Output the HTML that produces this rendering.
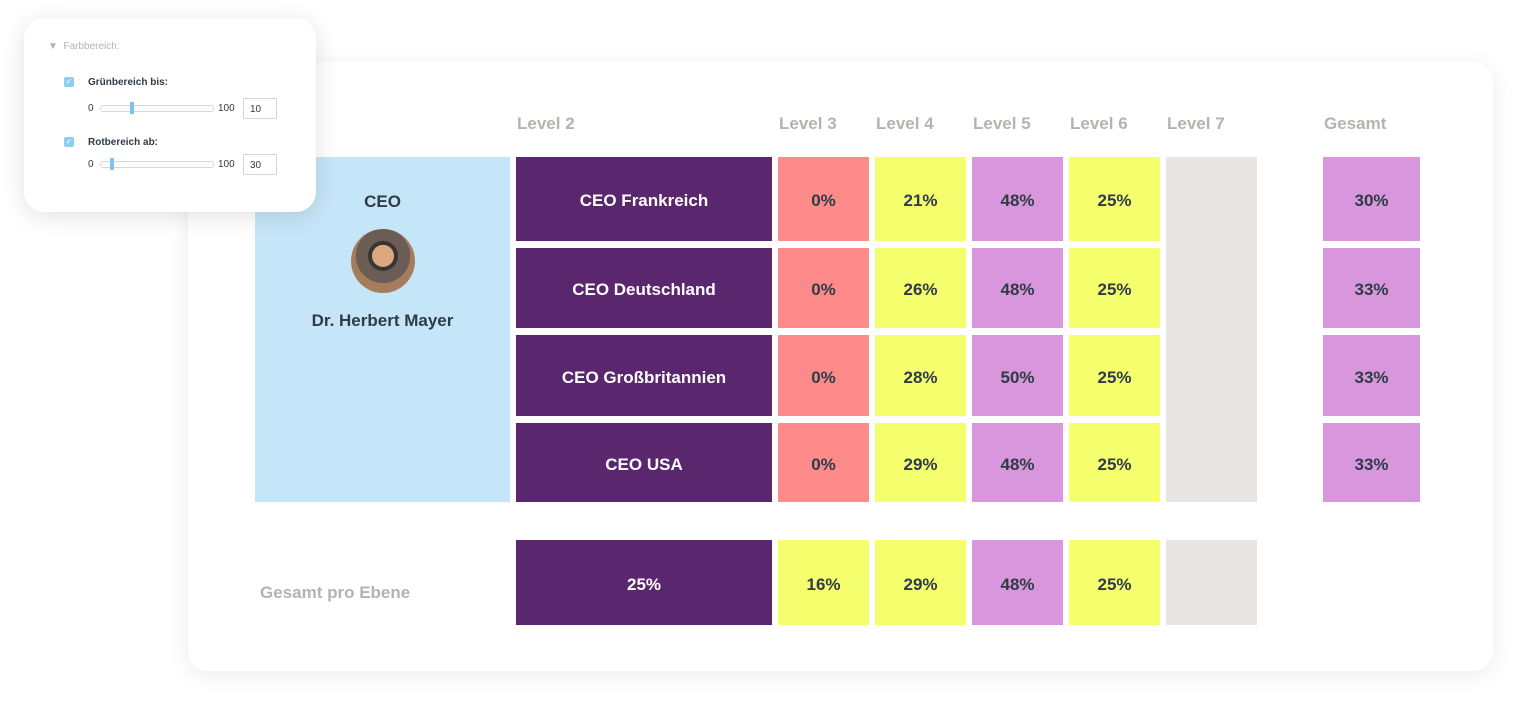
<!DOCTYPE html>
<html><head><meta charset="utf-8"><style>
body{margin:0;width:1517px;height:702px;background:#fff;font-family:"Liberation Sans",sans-serif;position:relative;overflow:hidden}
.abs{position:absolute}
#card{left:188px;top:62px;width:1305px;height:609px;border-radius:20px;background:#fff;box-shadow:0 4px 24px rgba(0,0,0,0.08)}
.hdr{font-size:17px;color:#b5b3ae;top:114px;font-weight:bold}
.cell{display:flex;align-items:center;justify-content:center;font-size:17px;font-weight:bold;color:#2f3b45;padding-top:4px;box-sizing:border-box}
.purple{background:#5a266d;color:#fff}
#panel{left:24px;top:18px;width:292px;height:194px;border-radius:20px;background:#fff;box-shadow:0 4px 24px rgba(0,0,0,0.12);font-size:10px;color:#2f3b45}
.cb{width:10px;height:10px;background:#8ecdf0;border-radius:2px;color:#fff;font-size:8px;line-height:10px;text-align:center}
.track{height:5px;border:1px solid #ddd6d0;border-radius:3px;width:112px}
.knob{width:4px;height:12px;background:#7cc3ee}
.inp{width:34px;height:21px;border:1px solid #ddd6d0;font-size:10px;line-height:21px;padding-left:6px;box-sizing:border-box}
</style></head><body>
<div id="card" class="abs"></div>
<div id="hdrs"></div>
<div class="abs cell" style="left:255px;top:157px;width:255px;height:345px;background:#c5e6f8;flex-direction:column;justify-content:flex-start;padding-top:0">
  <div style="margin-top:35px;font-size:17px">CEO</div>
  <div style="margin-top:17px;width:64px;height:64px;border-radius:50%;background:radial-gradient(circle at 50% 42%,#d9a882 0 22%,#3a3430 23% 30%,#6b5d55 31% 55%,#a57d5c 56%)"></div>
  <div style="margin-top:18px;font-size:17px">Dr. Herbert Mayer</div>
</div>
<div class="abs" style="left:260px;top:583px;font-size:17px;color:#b5b3ae;font-weight:bold">Gesamt pro Ebene</div>
<div id="grid"></div>
<div id="panel" class="abs">
  <div class="abs" style="left:24px;top:23px;color:#b5b3ae;font-size:10px">▼ &nbsp;Farbbereich:</div>
  <div class="abs cb" style="left:40px;top:59px">✓</div>
  <div class="abs" style="left:64px;top:59px;font-weight:bold">Grünbereich bis:</div>
  <div class="abs" style="left:64px;top:85px">0</div>
  <div class="abs track" style="left:76px;top:87px"></div>
  <div class="abs knob" style="left:106px;top:84px"></div>
  <div class="abs" style="left:194px;top:85px">100</div>
  <div class="abs inp" style="left:219px;top:80px">10</div>
  <div class="abs cb" style="left:40px;top:119px">✓</div>
  <div class="abs" style="left:64px;top:119px;font-weight:bold">Rotbereich ab:</div>
  <div class="abs" style="left:64px;top:141px">0</div>
  <div class="abs track" style="left:76px;top:143px"></div>
  <div class="abs knob" style="left:86px;top:140px"></div>
  <div class="abs" style="left:194px;top:141px">100</div>
  <div class="abs inp" style="left:219px;top:136px">30</div>
</div>
<script>
const headers=["Level 2","Level 3","Level 4","Level 5","Level 6","Level 7","Gesamt"];
const rowNames=["CEO Frankreich","CEO Deutschland","CEO Großbritannien","CEO USA"];
const level3=[0,0,0,0];
const level4=[21,26,28,29];
const level5=[48,48,50,48];
const level6=[25,25,25,25];
const gesamt=[30,33,33,33];
const totals=[25,16,29,48,25];
const colX=[516,778,875,972,1069,1166,1323];
const colW=[256,91,91,91,91,91,97];
const rowY=[157,248,335,423], rowH=[84,80,81,79];
function color(v){return v<10?'#ff8a8a':(v<30?'#f5fe6c':'#d896dc');}
const H=document.getElementById('hdrs'),G=document.getElementById('grid');
headers.forEach((h,i)=>{const d=document.createElement('div');d.className='abs hdr';d.style.left=(colX[i]+1)+'px';d.textContent=h;

H.appendChild(d);});
function cell(x,y,w,h,txt,bg,name,cls){const d=document.createElement('div');d.className='abs cell'+(cls?' '+cls:'');
d.style.cssText+=`left:${x}px;top:${y}px;width:${w}px;height:${h}px;`+(bg?`background:${bg};`:'');d.textContent=txt;

G.appendChild(d);}
const series=[level3,level4,level5,level6];
rowNames.forEach((n,r)=>{
 cell(colX[0],rowY[r],colW[0],rowH[r],n,null,'level2-'+r,'purple');
 series.forEach((s,j)=>cell(colX[j+1],rowY[r],colW[j+1],rowH[r],s[r]+'%',color(s[r]),'cell-l'+(j+3)+'-r'+r));
 cell(colX[6],rowY[r],colW[6],rowH[r],gesamt[r]+'%',color(gesamt[r]),'gesamt-r'+r);
});
cell(colX[5],157,91,345,'','#e8e6e3','level7-empty');
cell(colX[0],540,256,85,totals[0]+'%',null,'total-level2','purple');
for(let j=1;j<5;j++)cell(colX[j],540,91,85,totals[j]+'%',color(totals[j]),'total-level'+(j+2));
cell(colX[5],540,91,85,'','#e8e6e3','total-level7');
</script>
</body></html>
